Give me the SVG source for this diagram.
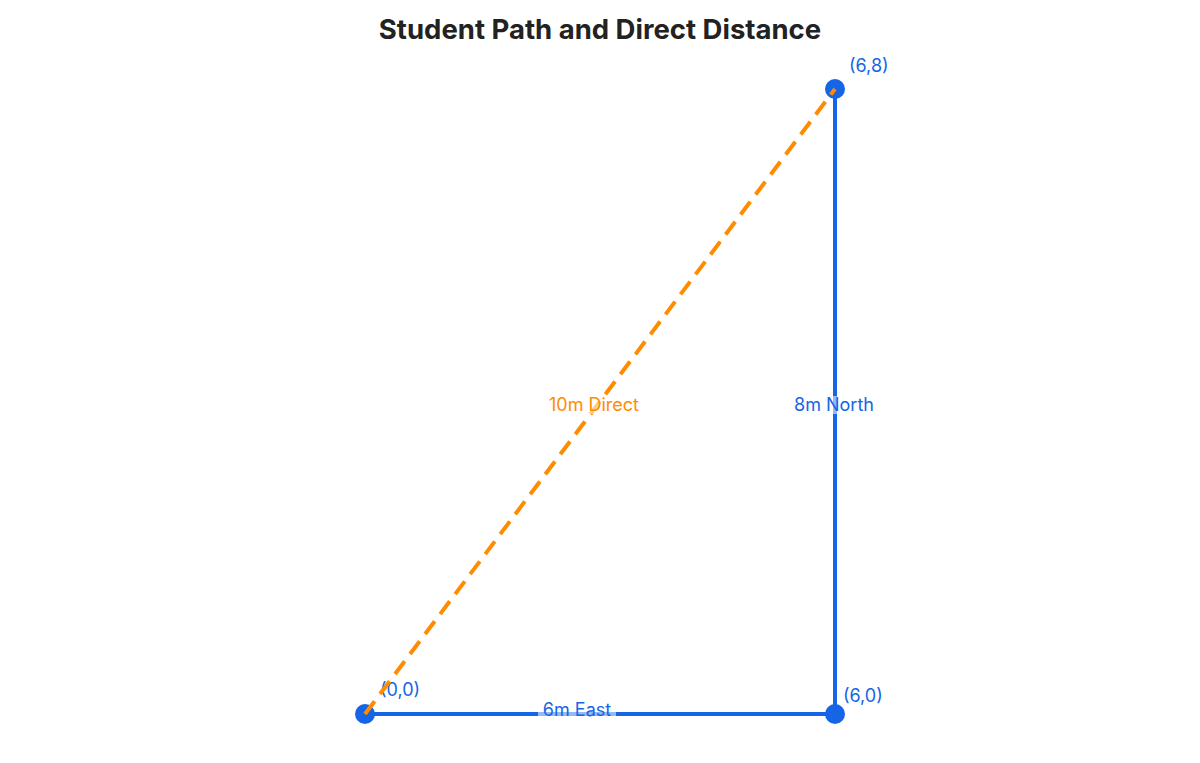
<svg xmlns="http://www.w3.org/2000/svg" width="1200" height="763" viewBox="0 0 1200 763">
<style>
.title{font-family:"Inter","Liberation Sans",sans-serif;font-weight:700;font-size:27.5px;fill:#222;}
.lbl{font-family:"Inter","Liberation Sans",sans-serif;font-size:18px;}
.blue{fill:#1565e6;}
.orange{fill:#ff8c00;}
.edge{stroke:#1565e6;stroke-width:4;fill:none;}
.direct{stroke:#ff8c00;stroke-width:4;stroke-dasharray:16 9;fill:none;}
.bg{fill:#ffffff;fill-opacity:0.55;}
.dot{fill:#1565e6;}
</style>
<rect width="1200" height="763" fill="#ffffff"/>
<text class="title" x="600" y="39" text-anchor="middle">Student Path and Direct Distance</text>
<g id="connectors">
<line class="edge" x1="365" y1="714" x2="835" y2="714"/>
<line class="edge" x1="835" y1="714" x2="835" y2="89"/>
<rect class="bg" x="538" y="702" width="78" height="15"/>
<text class="lbl blue" x="577" y="716" text-anchor="middle">6m East</text>
<rect class="bg" x="790" y="396" width="88" height="18"/>
<text class="lbl blue" x="834" y="411" text-anchor="middle">8m North</text>
</g>
<g id="node-0-0">
<circle class="dot" cx="365" cy="714" r="10"/>
<text class="lbl blue" x="380" y="696">(0,0)</text>
</g>
<g id="node-6-0">
<circle class="dot" cx="835" cy="714" r="10"/>
<text class="lbl blue" x="843" y="702">(6,0)</text>
</g>
<g id="node-6-8">
<circle class="dot" cx="835" cy="89" r="10"/>
<text class="lbl blue" x="849" y="72">(6,8)</text>
</g>
<g id="direct">
<line class="direct" x1="365" y1="714" x2="835" y2="89"/>
<rect class="bg" x="546" y="396" width="96" height="18"/>
<text class="lbl orange" x="594" y="411" text-anchor="middle">10m Direct</text>
</g>
</svg>
